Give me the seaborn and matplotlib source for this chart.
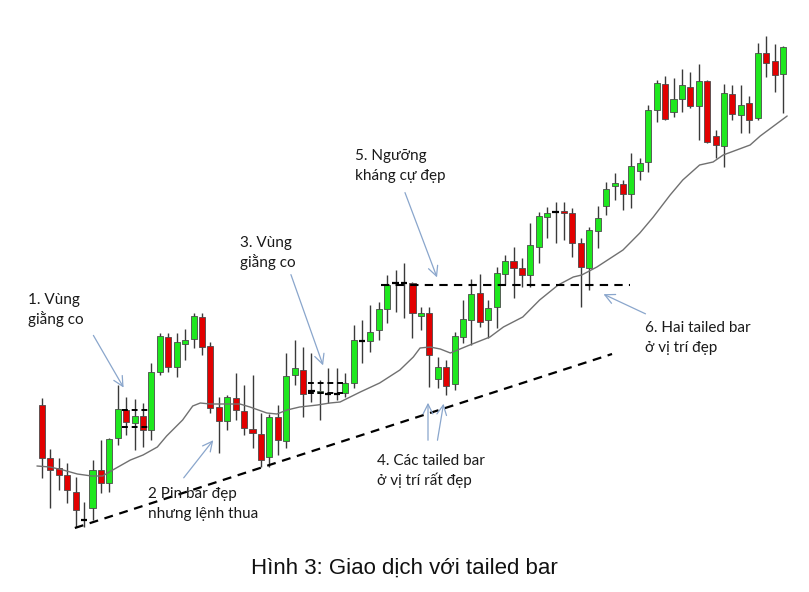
import numpy as np
import pandas as pd
import matplotlib
matplotlib.use("Agg")
import matplotlib.pyplot as plt
import seaborn as sns

# ---- data (arbitrary price units) ----
opens = [195,142,132,125,108,80,92,130,117,162,190,177,184,170,228,263,233,256,261,283,
         254,193,179,202,189,171,166,143,183,159,225,230,209,207,206,206,207,217,259,259,
         270,291,317,317,317,284,287,221,233,216,263,280,307,280,293,326,339,332,325,353,
         383,388,389,387,357,332,369,394,414,416,406,429,438,490,516,488,501,513,494,519,
         464,454,506,485,497,482,547,539,526]
highs = [202,151,142,137,123,98,140,160,162,215,203,201,197,237,267,267,267,271,287,287,
         258,203,205,227,215,225,187,186,195,247,260,253,247,220,232,232,227,275,280,295,
         298,325,330,337,318,293,293,243,240,268,300,321,326,300,333,345,353,342,377,388,
         393,398,398,392,362,373,394,418,427,420,447,442,495,520,524,522,531,528,536,520,
         470,516,515,515,504,557,564,556,554]
lows = [122,92,110,97,73,73,80,107,108,155,165,150,153,160,225,228,223,240,252,245,
        187,147,170,180,165,152,133,133,145,152,215,183,198,180,197,200,203,212,237,248,
        260,277,288,282,262,270,213,212,205,210,257,255,273,262,272,315,302,313,313,337,
        362,357,360,343,293,310,352,385,400,390,392,420,428,478,480,483,488,492,460,457,
        442,433,480,467,467,480,523,508,487]
closes = [142,130,125,110,90,80,130,117,161,191,178,184,170,228,264,233,258,260,284,253,
          192,179,203,190,172,167,140,183,160,224,232,206,209,209,206,206,217,260,259,268,
          291,315,317,317,287,287,245,233,214,264,281,306,278,292,327,339,332,325,355,384,
          387,388,387,357,333,370,382,411,417,406,434,437,490,517,481,501,515,494,519,458,
          455,507,486,495,480,547,537,525,553]

# moving-average line, sampled along the picture (x in bar units)
ma_x = [-0.6,0.95,2.5,4.2,5.9,7.2,8.4,10.5,12.0,13.7,14.8,16.7,17.9,18.8,20.0,22.3,23.5,
        24.7,26.7,27.9,29.1,30.6,32.7,34.2,35.4,37.8,40.1,42.5,44.1,44.9,46.1,47.3,48.5,
        50.8,53.2,54.8,57.1,59.1,61.3,63.1,64.1,65.9,69.0,71.0,72.6,74.6,76.1,78.1,79.7,
        80.9,84.1,85.3,88.5]
ma_y = [134,133,130,126,124,124,130,140,145,153,164,180,194,197,196,196,196,
        193,187,186,190,193,195,197,198,208,217,230,243,252,253,251,247,
        255,263,273,283,300,315,323,325,333,350,367,383,405,420,435,438,
        445,455,464,484]

trend_x = [3.9, 67.7]
trend_y = [72, 246]
resist_x = [40.3, 69.8]
resist_y = [315, 315]

zone_a_x = [9.5, 12.8]
zone_a_y = [190, 173]
zone_b_x = [31.6, 36.2]
zone_b_y = [217, 207]

notes = [
    ("1. Vùng", "giằng co"),
    ("2 Pin bar đẹp", "nhưng lệnh thua"),
    ("3. Vùng", "giằng co"),
    ("4. Các tailed bar", "ở vị trí rất đẹp"),
    ("5. Ngưỡng", "kháng cự đẹp"),
    ("6. Hai tailed bar", "ở vị trí đẹp"),
]
caption = "Hình 3: Giao dịch với tailed bar"

# ---- figure ----
sns.set_theme(style="white")
plt.rcParams["font.family"] = ["Lato", "Noto Sans", "DejaVu Sans"]

W, H = 809, 592
fig = plt.figure(figsize=(W / 100, H / 100), dpi=100)
ax = fig.add_axes([0, 0, 1, 1])
ax.set_axis_off()
x0, step = 42.0, 8.42
ax.set_xlim(-x0 / step, (W - x0) / step)
ax.set_ylim(600 - H, 600)

df = pd.DataFrame({"o": opens, "h": highs, "l": lows, "c": closes})
df["i"] = np.arange(len(df))

GREEN, RED = "#1ee81e", "#e20000"
ax.vlines(df["i"], df["l"], df["h"], color="#3a3a3a", lw=1.0, zorder=2)
for _, r in df.iterrows():
    if r["c"] == r["o"]:
        ax.hlines(r["o"], r["i"] - 0.38, r["i"] + 0.38, color="black", lw=1.6, zorder=3)
        continue
    col = GREEN if r["c"] > r["o"] else RED
    lo = min(r["o"], r["c"])
    ax.bar(r["i"], abs(r["c"] - r["o"]), bottom=lo, width=0.72, color=col,
           edgecolor="#4a4a4a", linewidth=0.6, zorder=3)

ma = pd.DataFrame({"x": ma_x, "y": ma_y})
sns.lineplot(data=ma, x="x", y="y", ax=ax, color="#707070", lw=1.0, zorder=4,
             sort=False, estimator=None)
ax.set_axis_off()

ax.plot(trend_x, trend_y, color="black", lw=1.6, dashes=(4, 3), zorder=5)
ax.plot(resist_x, resist_y, color="black", lw=1.5, dashes=(4, 3), zorder=5)
for zx, zy in [(zone_a_x, zone_a_y), (zone_b_x, zone_b_y)]:
    for yy in zy:
        ax.plot(zx, [yy, yy], color="black", lw=1.4, dashes=(3, 2), zorder=5)

# ---- annotations (pixel positions) ----
def fx(px):
    return px / W

def fy(py):
    return 1 - py / H

text_pos = [(28, 304), (148, 498), (240, 247), (377, 465), (355, 160), (645, 332)]
for (l1, l2), (px, py) in zip(notes, text_pos):
    fig.text(fx(px), fy(py), l1, fontsize=11, color="#1a1a1a", va="baseline", ha="left")
    fig.text(fx(px), fy(py + 20), l2, fontsize=11, color="#1a1a1a", va="baseline", ha="left")

arrows = [((92, 333), (125, 390)), ((182, 480), (215, 438)), ((290, 272), (324, 368)),
          ((428, 443), (428, 400)), ((437, 443), (444, 401)), ((404, 190), (438, 280)),
          ((648, 315), (601, 293))]
for (tx, ty), (hx, hy) in arrows:
    fig.add_artist(matplotlib.patches.FancyArrowPatch(
        (fx(tx), fy(ty)), (fx(hx), fy(hy)), transform=fig.transFigure,
        arrowstyle="->,head_length=7,head_width=3.5", color="#8aa6cc", lw=0.9,
        mutation_scale=1))

fig.text(0.5, fy(568), caption, fontsize=16, ha="center", va="center",
         family=["Liberation Sans", "DejaVu Sans"], color="#111111")

fig.savefig("out.png", dpi=100, facecolor="white")
